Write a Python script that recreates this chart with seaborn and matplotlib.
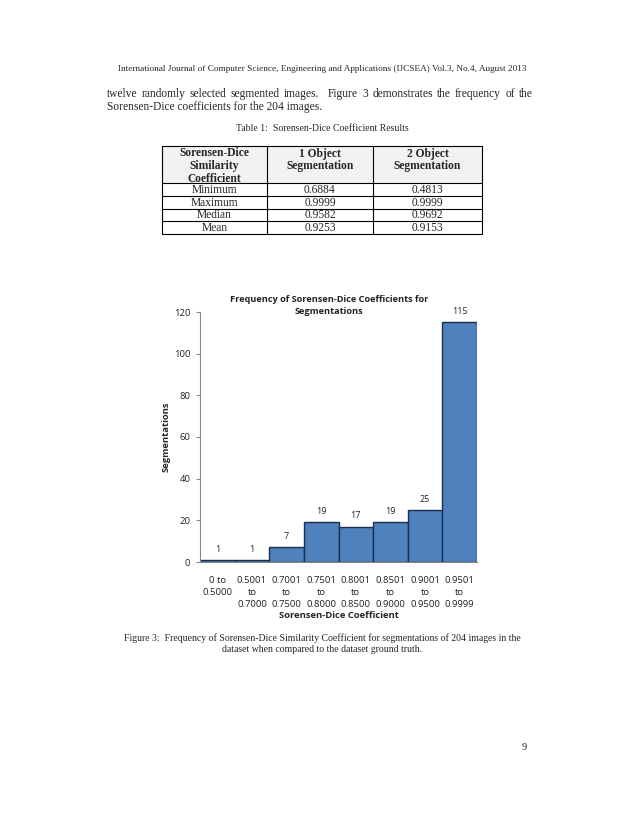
import seaborn as sns
import matplotlib.pyplot as plt
import pandas as pd

# chart data
bins = ["0 to\n0.5000", "0.5001\nto\n0.7000", "0.7001\nto\n0.7500", "0.7501\nto\n0.8000",
        "0.8001\nto\n0.8500", "0.8501\nto\n0.9000", "0.9001\nto\n0.9500", "0.9501\nto\n0.9999"]
counts = [1, 1, 7, 19, 17, 19, 25, 115]
y_ticks = [0, 20, 40, 60, 80, 100, 120]

# table data
table_header = ["Sorensen-Dice\nSimilarity\nCoefficient", "1 Object\nSegmentation", "2 Object\nSegmentation"]
row_names = ["Minimum", "Maximum", "Median", "Mean"]
one_object = ["0.6884", "0.9999", "0.9582", "0.9253"]
two_object = ["0.4813", "0.9999", "0.9692", "0.9153"]

W, H = 638, 826
serif = "Liberation Serif"
sans = "Open Sans"

sns.set_style("white")
plt.rcParams['font.family'] = [sans, 'DejaVu Sans']

fig = plt.figure(figsize=(W / 100, H / 100), dpi=100)
fig.patch.set_facecolor("white")


def fx(px):
    return px / W


def fy(py):
    return 1 - py / H


def justify(words, x0, x1, y, size):
    # place words so the line fills x0..x1
    r = fig.canvas.get_renderer()
    widths = []
    for w in words:
        t = fig.text(0, 0, w, fontsize=size, family=serif)
        widths.append(t.get_window_extent(r).width)
        t.remove()
    gap = (x1 - x0 - sum(widths)) / (len(words) - 1)
    x = x0
    for w, wd in zip(words, widths):
        fig.text(fx(x), fy(y), w, fontsize=size, family=serif, va="baseline")
        x += wd + gap


body = 8.3

# page header and body
fig.text(fx(322), fy(71), "International Journal of Computer Science, Engineering and Applications (IJCSEA) Vol.3, No.4, August 2013",
         ha="center", va="baseline", fontsize=6.7, family=serif)
justify("twelve randomly selected segmented images.  Figure 3 demonstrates the frequency of the".split(" "),
        107, 533, 97, body)
fig.text(fx(107), fy(110), "Sorensen-Dice coefficients for the 204 images.", fontsize=body, family=serif, va="baseline")
fig.text(fx(322), fy(131), "Table 1:  Sorensen-Dice Coefficient Results", ha="center", va="baseline",
         fontsize=7.0, family=serif)

# table
cols = [162, 267, 373, 482]
rows = [146, 183, 196, 209, 221, 234]
fig.patches.append(plt.Rectangle((fx(cols[0]), fy(rows[1])), fx(cols[3] - cols[0]), (rows[1] - rows[0]) / H,
                                 transform=fig.transFigure, facecolor="#f2f2f2", edgecolor="none", zorder=0))
for yy in rows:
    fig.add_artist(plt.Line2D([fx(cols[0]), fx(cols[3])], [fy(yy), fy(yy)], color="black", lw=0.8))
for xx in cols:
    fig.add_artist(plt.Line2D([fx(xx), fx(xx)], [fy(rows[0]), fy(rows[-1])], color="black", lw=0.8))
for i, h in enumerate(table_header):
    cx = (cols[i] + cols[i + 1]) / 2
    fig.text(fx(cx), fy(rows[0] + 1.5), h, ha="center", va="top", fontsize=body, family=serif,
             fontweight="bold", linespacing=1.1)
for j in range(len(row_names)):
    cy = (rows[j + 1] + rows[j + 2]) / 2 + 0.5
    for i, v in enumerate([row_names[j], one_object[j], two_object[j]]):
        cx = (cols[i] + cols[i + 1]) / 2
        fig.text(fx(cx), fy(cy), v, ha="center", va="center", fontsize=body, family=serif)

# chart
ax = fig.add_axes([fx(200), fy(562), fx(477 - 200), (562 - 312) / H])
df = pd.DataFrame({"bin": bins, "count": counts})
sns.barplot(data=df, x="bin", y="count", ax=ax, width=1, color="#4f81bd",
            edgecolor="#1c2f4f", linewidth=1, saturation=1)
for i, c in enumerate(counts):
    ax.text(i, c + 3, str(c), ha="center", va="bottom", fontsize=6.5, color="#222222")
ax.set_xlim(-0.5, len(bins) - 0.5)
ax.set_ylim(0, 120)
ax.set_yticks(y_ticks)
ax.tick_params(axis="y", direction="out", length=3, width=0.8, color="#888888", labelsize=6.8, pad=4,
               left=True, labelcolor="#222222")
ax.tick_params(axis="x", length=0, labelsize=6.8, pad=10, labelcolor="#222222")
for lab in ax.get_xticklabels():
    lab.set_linespacing(1.45)
for s in ["top", "right"]:
    ax.spines[s].set_visible(False)
ax.spines["left"].set_color("#888888")
ax.spines["bottom"].set_color("#888888")
ax.spines["left"].set_linewidth(0.8)
ax.set_xlabel("Sorensen-Dice Coefficient", fontsize=6.8, fontweight="bold", labelpad=1)
ax.set_ylabel("Segmentations", fontsize=6.8, fontweight="bold", labelpad=2)
fig.text(fx(329), fy(314), "Frequency of Sorensen-Dice Coefficients for\nSegmentations", ha="center",
         va="baseline", fontsize=6.6, fontweight="bold", linespacing=1.45, color="#222222")

# caption and page number
fig.text(fx(322), fy(652), "Figure 3:  Frequency of Sorensen-Dice Similarity Coefficient for segmentations of 204 images in the\n"
         "dataset when compared to the dataset ground truth.", ha="center", va="baseline",
         fontsize=7.0, family=serif, linespacing=1.3)
fig.text(fx(524), fy(750), "9", ha="center", va="baseline", fontsize=7.4, family=serif)

fig.savefig("out.png", dpi=100, facecolor="white")
